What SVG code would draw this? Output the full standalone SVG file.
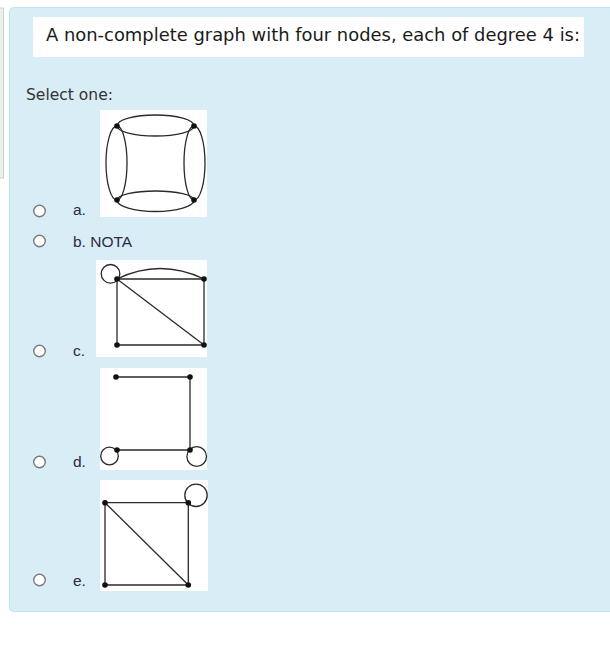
<svg xmlns="http://www.w3.org/2000/svg" width="610" height="652" viewBox="0 0 610 652">
<style>
.e{fill:none;stroke:#2a2a2a;stroke-width:1.3}
.n{fill:#111}
.img{fill:#fff}
.rb{fill:#fff;stroke:#7a7a7a;stroke-width:1.4}
.lbl{font-family:"Liberation Sans",Arial,sans-serif;font-size:15.5px;fill:#2b2b45}
</style>
<rect width="610" height="652" fill="#fff"/>
<rect x="-2" y="8" width="5.5" height="170" fill="#eeeeee" stroke="#d0d0d0" stroke-width="1"/>
<rect x="9.5" y="7.5" width="610" height="604" rx="4" fill="#d9edf7" stroke="#bfe2ee" stroke-width="1"/>
<g id="question">
<rect x="33" y="17" width="551" height="40" fill="#fff"/>
<text x="46" y="41" font-family="DejaVu Sans, Verdana, sans-serif" font-size="17.5" fill="#1a1a1a" textLength="534" lengthAdjust="spacingAndGlyphs">A non-complete graph with four nodes, each of degree 4 is:</text>
</g>
<text x="26" y="100" font-family="DejaVu Sans, Verdana, sans-serif" font-size="15" fill="#333" textLength="87" lengthAdjust="spacingAndGlyphs">Select one:</text>

<g id="option-a">
<circle class="rb" cx="39.5" cy="211" r="5.8"/>
<text class="lbl" x="73" y="215">a.</text>
<rect class="img" x="100" y="110" width="107" height="107"/>
<g class="e">
<path d="M117,126 A38.5,11 0 0 1 194,126"/>
<path d="M117,126 A38.5,10 0 0 0 194,126"/>
<path d="M117,200 A38.5,9 0 0 1 194,200"/>
<path d="M117,200 A38.5,11.5 0 0 0 194,200"/>
<path d="M117,126 A11,37 0 0 0 117,200"/>
<path d="M117,126 A10,37 0 0 1 117,200"/>
<path d="M194,126 A10,37 0 0 0 194,200"/>
<path d="M194,126 A11,37 0 0 1 194,200"/>
</g>
<circle class="n" cx="117" cy="126" r="2.8"/><circle class="n" cx="194" cy="126" r="2.8"/>
<circle class="n" cx="117" cy="200" r="2.8"/><circle class="n" cx="194" cy="200" r="2.8"/>
</g>

<g id="option-b">
<circle class="rb" cx="39.5" cy="241" r="5.8"/>
<text class="lbl" x="73" y="247">b. NOTA</text>
</g>

<g id="option-c">
<circle class="rb" cx="39.5" cy="351" r="5.8"/>
<text class="lbl" x="73" y="356">c.</text>
<rect class="img" x="96" y="260" width="111" height="97"/>
<g class="e">
<path d="M117,279 H204 V345 H117 Z"/>
<path d="M117,279 L204,345"/>
<path d="M117,279 Q160,258 204,279"/>
<circle cx="110.5" cy="273.8" r="9.3"/>
</g>
<circle class="n" cx="117" cy="279" r="2.8"/><circle class="n" cx="204" cy="279" r="2.8"/>
<circle class="n" cx="117" cy="345" r="2.8"/><circle class="n" cx="204" cy="345" r="2.8"/>
</g>

<g id="option-d">
<circle class="rb" cx="39.5" cy="462" r="5.8"/>
<text class="lbl" x="73" y="467">d.</text>
<rect class="img" x="100" y="368" width="107" height="102"/>
<g class="e">
<path d="M116,377 H190 V450 H117"/>
<circle cx="109.5" cy="456" r="8.8"/>
<circle cx="196.7" cy="456.5" r="9.8"/>
</g>
<circle class="n" cx="116" cy="377" r="2.8"/><circle class="n" cx="190" cy="377" r="2.8"/>
<circle class="n" cx="117" cy="450" r="2.8"/><circle class="n" cx="190" cy="450" r="2.8"/>
</g>

<g id="option-e">
<circle class="rb" cx="39.5" cy="580" r="5.8"/>
<text class="lbl" x="73" y="586">e.</text>
<rect class="img" x="100" y="480" width="108" height="111"/>
<g class="e">
<path d="M105,502.7 H188.3 V585 H105 Z"/>
<path d="M105,502.7 L188.3,585"/>
<circle cx="196" cy="495.3" r="11.2"/>
</g>
<circle class="n" cx="105" cy="502.7" r="2.8"/><circle class="n" cx="188.3" cy="502.7" r="2.8"/>
<circle class="n" cx="105" cy="585" r="2.8"/><circle class="n" cx="188.3" cy="585" r="2.8"/>
</g>
</svg>
